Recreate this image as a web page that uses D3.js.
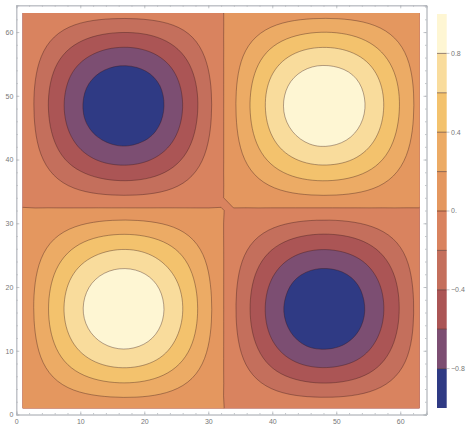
<!DOCTYPE html>
<html>
<head>
<meta charset="utf-8">
<script src="https://cdn.jsdelivr.net/npm/d3@7"></script>
<style>
  html, body { margin: 0; padding: 0; background: #fff; }
  text { font-family: "Liberation Sans", sans-serif; font-size: 7px; fill: #777; }
</style>
</head>
<body>
<script>
// contour levels and the fill of each band, lowest band first
const levels = [-0.8, -0.6, -0.4, -0.2, 0, 0.2, 0.4, 0.6, 0.8];
const bandColors = ["#2f3a84", "#7c4e72", "#ab5555", "#c46f5c", "#d9835f",
                    "#e4975f", "#ecab65", "#f3c26d", "#f9dc9c", "#fef6d3"];

const xTicks = [0, 10, 20, 30, 40, 50, 60];
const yTicks = [0, 10, 20, 30, 40, 50, 60];
const legendTicks = [-0.8, -0.4, 0, 0.4, 0.8];
const legendLabels = ["\u22120.8", "\u22120.4", "0.", "0.4", "0.8"];

// data coordinates of grid columns 0, 8, 16, 32 and of grid rows 0, 8, 16, 32
const columnPositions = [1, 16.8, 32, 63];
const rowPositions = [63, 48, 32, 1];

// values, top row first, left to right
const gridRows = [
[-.01,-.02,-.04,-.06,-.07,-.08,-.09,-.10,-.10,-.10,-.09,-.08,-.07,-.06,-.04,-.02,-.004,.015,.03,.05,.07,.08,.09,.10,.10,.10,.10,.09,.08,.06,.05,.03,.01],
[-.01,-.06,-.11,-.16,-.21,-.24,-.27,-.28,-.29,-.28,-.27,-.24,-.21,-.17,-.12,-.07,-.012,.044,.10,.15,.19,.23,.26,.28,.29,.29,.28,.25,.22,.18,.13,.08,.03],
[-.01,-.10,-.18,-.26,-.33,-.38,-.42,-.45,-.46,-.45,-.43,-.39,-.33,-.27,-.19,-.11,-.018,.069,.16,.23,.31,.37,.41,.45,.46,.46,.44,.40,.35,.29,.21,.13,.05],
[-.01,-.13,-.24,-.35,-.44,-.51,-.57,-.61,-.62,-.61,-.58,-.52,-.45,-.36,-.25,-.14,-.025,.093,.21,.32,.42,.50,.56,.60,.62,.61,.59,.54,.47,.38,.29,.18,.06],
[-.02,-.16,-.30,-.43,-.54,-.63,-.70,-.74,-.76,-.74,-.71,-.64,-.55,-.44,-.31,-.17,-.030,.114,.26,.39,.51,.61,.68,.74,.76,.75,.72,.66,.58,.47,.35,.22,.08],
[-.02,-.18,-.34,-.49,-.62,-.72,-.80,-.85,-.87,-.85,-.81,-.73,-.63,-.50,-.36,-.20,-.035,.131,.30,.44,.58,.70,.78,.84,.87,.86,.83,.76,.66,.54,.40,.25,.09],
[-.02,-.20,-.37,-.53,-.67,-.79,-.87,-.93,-.95,-.93,-.88,-.80,-.68,-.55,-.39,-.22,-.038,.143,.32,.48,.64,.76,.86,.92,.95,.94,.90,.83,.72,.59,.44,.28,.10],
[-.02,-.21,-.39,-.55,-.70,-.82,-.91,-.97,-.99,-.97,-.92,-.83,-.71,-.57,-.41,-.23,-.040,.149,.34,.50,.66,.79,.89,.96,.99,.98,.94,.86,.75,.61,.46,.29,.10],
[-.02,-.21,-.39,-.56,-.71,-.83,-.92,-.98,-1.0,-.98,-.93,-.84,-.72,-.58,-.41,-.23,-.040,.150,.34,.51,.67,.80,.90,.97,1.0,.99,.95,.87,.76,.62,.46,.29,.10],
[-.02,-.20,-.38,-.54,-.69,-.81,-.89,-.95,-.97,-.95,-.90,-.81,-.70,-.56,-.40,-.22,-.039,.146,.33,.49,.65,.78,.87,.94,.97,.96,.92,.84,.74,.60,.45,.28,.10],
[-.02,-.19,-.35,-.50,-.64,-.75,-.83,-.88,-.90,-.88,-.84,-.76,-.65,-.52,-.37,-.21,-.036,.135,.31,.46,.60,.72,.81,.87,.90,.89,.86,.78,.68,.56,.41,.26,.09],
[-.02,-.17,-.31,-.45,-.57,-.66,-.74,-.78,-.80,-.78,-.74,-.67,-.58,-.46,-.33,-.18,-.032,.120,.27,.41,.54,.64,.72,.78,.80,.79,.76,.70,.61,.50,.37,.23,.08],
[-.01,-.14,-.26,-.38,-.48,-.56,-.62,-.66,-.67,-.66,-.62,-.56,-.48,-.39,-.27,-.15,-.027,.101,.23,.34,.45,.54,.60,.65,.67,.66,.64,.58,.51,.42,.31,.19,.07],
[-.01,-.11,-.20,-.29,-.36,-.42,-.47,-.50,-.51,-.50,-.47,-.43,-.37,-.30,-.21,-.12,-.020,.077,.17,.26,.34,.41,.46,.49,.51,.50,.48,.44,.39,.32,.23,.15,.05],
[-.01,-.07,-.13,-.19,-.24,-.28,-.31,-.33,-.34,-.33,-.32,-.29,-.24,-.20,-.14,-.08,-.014,.051,.12,.17,.23,.27,.31,.33,.34,.34,.32,.30,.26,.21,.16,.10,.03],
[-.003,-.032,-.059,-.084,-.107,-.125,-.138,-.147,-.150,-.147,-.140,-.126,-.108,-.087,-.062,-.035,-.006,.023,.051,.077,.101,.120,.135,.146,.150,.149,.143,.131,.114,.093,.069,.044,.015],
[.001,.008,.016,.022,.028,.033,.037,.039,.040,.039,.037,.034,.029,.023,.016,.009,.002,-.006,-.014,-.020,-.027,-.032,-.036,-.039,-.040,-.040,-.038,-.035,-.030,-.025,-.018,-.012,-.004],
[.01,.05,.09,.13,.16,.19,.21,.23,.23,.23,.21,.19,.17,.13,.09,.05,.009,-.035,-.08,-.12,-.15,-.18,-.21,-.22,-.23,-.23,-.22,-.20,-.17,-.14,-.11,-.07,-.02],
[.01,.09,.16,.23,.29,.34,.38,.40,.41,.40,.38,.34,.30,.24,.17,.09,.016,-.062,-.14,-.21,-.27,-.33,-.37,-.40,-.41,-.41,-.39,-.36,-.31,-.25,-.19,-.12,-.04],
[.01,.12,.23,.32,.41,.48,.53,.57,.58,.57,.54,.49,.42,.34,.24,.13,.023,-.087,-.20,-.30,-.39,-.46,-.52,-.56,-.58,-.57,-.55,-.50,-.44,-.36,-.27,-.17,-.06],
[.01,.15,.28,.40,.51,.60,.66,.71,.72,.71,.67,.60,.52,.42,.30,.17,.029,-.108,-.24,-.37,-.48,-.58,-.65,-.70,-.72,-.71,-.68,-.63,-.55,-.45,-.33,-.21,-.07],
[.02,.18,.33,.47,.60,.70,.77,.82,.84,.82,.78,.71,.60,.49,.34,.19,.034,-.126,-.29,-.43,-.56,-.67,-.76,-.81,-.84,-.83,-.80,-.73,-.64,-.52,-.39,-.24,-.08],
[.02,.20,.36,.52,.66,.77,.86,.91,.93,.91,.86,.78,.67,.54,.38,.21,.037,-.140,-.32,-.47,-.62,-.74,-.84,-.90,-.93,-.92,-.88,-.81,-.71,-.58,-.43,-.27,-.09],
[.02,.21,.38,.55,.70,.81,.90,.96,.98,.96,.91,.82,.71,.57,.40,.23,.039,-.147,-.33,-.50,-.66,-.78,-.88,-.95,-.98,-.97,-.93,-.85,-.74,-.61,-.45,-.28,-.10],
[.02,.21,.39,.56,.71,.83,.92,.98,1.0,.98,.93,.84,.72,.58,.41,.23,.040,-.150,-.34,-.51,-.67,-.80,-.90,-.97,-1.0,-.99,-.95,-.87,-.76,-.62,-.46,-.29,-.10],
[.02,.21,.38,.55,.70,.81,.90,.96,.98,.96,.91,.82,.71,.57,.40,.23,.039,-.147,-.33,-.50,-.66,-.78,-.88,-.95,-.98,-.97,-.93,-.85,-.74,-.61,-.45,-.28,-.10],
[.02,.19,.36,.52,.65,.76,.85,.90,.92,.90,.86,.77,.66,.53,.38,.21,.037,-.138,-.31,-.47,-.62,-.74,-.83,-.89,-.92,-.91,-.87,-.80,-.70,-.57,-.42,-.27,-.09],
[.02,.17,.32,.46,.59,.69,.76,.81,.83,.81,.77,.70,.60,.48,.34,.19,.033,-.125,-.28,-.42,-.56,-.66,-.75,-.81,-.83,-.82,-.79,-.72,-.63,-.51,-.38,-.24,-.08],
[.01,.15,.28,.40,.50,.59,.65,.70,.71,.70,.66,.60,.51,.41,.29,.16,.028,-.107,-.24,-.36,-.48,-.57,-.64,-.69,-.71,-.70,-.67,-.62,-.54,-.44,-.33,-.21,-.07],
[.01,.12,.22,.31,.40,.46,.52,.55,.56,.55,.52,.47,.40,.32,.23,.13,.022,-.084,-.19,-.29,-.38,-.45,-.50,-.54,-.56,-.55,-.53,-.49,-.43,-.35,-.26,-.16,-.06],
[.01,.08,.15,.22,.28,.32,.36,.38,.39,.38,.36,.33,.28,.23,.16,.09,.016,-.059,-.13,-.20,-.26,-.31,-.35,-.38,-.39,-.39,-.37,-.34,-.30,-.24,-.18,-.11,-.04],
[.004,.04,.08,.12,.15,.17,.19,.21,.21,.21,.20,.18,.15,.12,.09,.05,.008,-.032,-.07,-.11,-.14,-.17,-.19,-.20,-.21,-.21,-.20,-.18,-.16,-.13,-.10,-.06,-.02],
[.001,.004,.008,.011,.014,.017,.018,.020,.020,.020,.019,.017,.014,.012,.008,.005,.001,-.003,-.007,-.010,-.013,-.016,-.018,-.019,-.020,-.020,-.019,-.017,-.015,-.012,-.009,-.006,-.002]
];

const width = 474;
const height = 430;
const frameColor = "#b4b8bc";

const svg = d3.select("body").append("svg")
    .attr("width", width)
    .attr("height", height)
    .style("display", "block");

const x = d3.scaleLinear().domain([0, 64.1]).range([16.3, 426.5]);
const y = d3.scaleLinear().domain([0, 64.2]).range([414.5, 5.3]);
const legendY = d3.scaleLinear().domain([-1, 1]).range([408, 14]);

// d3.contours puts sample i at i + 0.5
const rowCount = gridRows.length;
const colCount = gridRows[0].length;
const gridAnchors = [0.5, 8.5, 16.5, 32.5];
const gridX = d3.scaleLinear().domain(gridAnchors).range(columnPositions.map(x));
const gridY = d3.scaleLinear().domain(gridAnchors).range(rowPositions.map(y));

const contours = d3.contours()
    .size([colCount, rowCount])
    .thresholds(levels)(gridRows.flat());

const plotLeft = gridX(0.5);
const plotRight = gridX(colCount - 0.5);
const plotTop = gridY(0.5);
const plotBottom = gridY(rowCount - 0.5);

svg.append("clipPath").attr("id", "plot-clip")
    .append("rect")
    .attr("x", plotLeft)
    .attr("y", plotTop)
    .attr("width", plotRight - plotLeft)
    .attr("height", plotBottom - plotTop);

const closedLine = d3.line().x(d => gridX(d[0])).y(d => gridY(d[1])).curve(d3.curveBasisClosed);
const openLine = d3.line().x(d => gridX(d[0])).y(d => gridY(d[1]));

// even spacing along the ring, the grid crossings bunch up otherwise
function resampleRing(ring, count) {
    const lengths = [0];
    for (let i = 1; i < ring.length; i++) {
        lengths.push(lengths[i - 1] + Math.hypot(ring[i][0] - ring[i - 1][0], ring[i][1] - ring[i - 1][1]));
    }
    const total = lengths[lengths.length - 1];
    return d3.range(count).map(k => {
        const at = total * k / count;
        const i = Math.min(d3.bisectRight(lengths, at), ring.length - 1);
        const t = (at - lengths[i - 1]) / (lengths[i] - lengths[i - 1]);
        return [ring[i - 1][0] + t * (ring[i][0] - ring[i - 1][0]),
                ring[i - 1][1] + t * (ring[i][1] - ring[i - 1][1])];
    });
}

function relaxRing(pts) {
    const n = pts.length;
    return pts.map((p, i) => {
        const a = pts[(i + n - 1) % n];
        const b = pts[(i + 1) % n];
        return [(a[0] + 2 * p[0] + b[0]) / 4, (a[1] + 2 * p[1] + b[1]) / 4];
    });
}

// relaxing shrinks a loop a little, so grow it back to the same area
function smoothRing(ring) {
    const start = resampleRing(ring, 48);
    let pts = start;
    for (let pass = 0; pass < 4; pass++) pts = relaxRing(pts);
    const [cx, cy] = d3.polygonCentroid(pts);
    const grow = Math.sqrt(Math.abs(d3.polygonArea(start) / d3.polygonArea(pts)));
    return pts.map(p => [cx + (p[0] - cx) * grow, cy + (p[1] - cy) * grow]);
}

// rings that run along the grid edge stay straight, the closed loops get smoothed
function ringPath(ring) {
    const onEdge = ring.some(p => p[0] <= 0 || p[1] <= 0 || p[0] >= colCount || p[1] >= rowCount);
    return onEdge ? openLine(ring) + "Z" : closedLine(smoothRing(ring));
}

const plot = svg.append("g").attr("clip-path", "url(#plot-clip)");

plot.append("rect")
    .attr("x", plotLeft)
    .attr("y", plotTop)
    .attr("width", plotRight - plotLeft)
    .attr("height", plotBottom - plotTop)
    .attr("fill", bandColors[0]);

plot.selectAll(".band")
    .data(contours)
    .enter().append("path")
    .attr("class", "band")
    .attr("d", d => d.coordinates.flat().map(ringPath).join(""))
    .attr("fill", (d, i) => bandColors[i + 1])
    .attr("fill-rule", "evenodd")
    .attr("stroke", "#3a1a1a")
    .attr("stroke-opacity", 0.55)
    .attr("stroke-width", 0.7);

// frame with major ticks every 10 and minor ticks every 2
function drawAxis(axisFn, scale, transform, labels, padding) {
    const minor = svg.append("g").attr("transform", transform)
        .call(axisFn(scale).tickValues(d3.range(0, 65, 2)).tickSize(-1.5).tickFormat(""));
    const major = svg.append("g").attr("transform", transform)
        .call(axisFn(scale).tickValues(labels ? labels : xTicks).tickSize(-3).tickPadding(padding)
            .tickFormat(labels ? d3.format("d") : ""));
    [minor, major].forEach(g => {
        g.selectAll("path, line").attr("stroke", frameColor).attr("stroke-width", 0.8);
        g.selectAll("text").attr("fill", null);
    });
}

drawAxis(d3.axisBottom, x, `translate(0,${y(0)})`, xTicks, 5);
drawAxis(d3.axisLeft, y, `translate(${x(0)},0)`, yTicks, 3);
drawAxis(d3.axisTop, x, `translate(0,${y.range()[1]})`, null, 0);
drawAxis(d3.axisRight, y, `translate(${x.range()[1]},0)`, null, 0);

// colour bar
const legend = svg.append("g");
const legendEdges = [-1, ...levels, 1];

legend.selectAll("rect")
    .data(bandColors)
    .enter().append("rect")
    .attr("x", 437)
    .attr("width", 9.7)
    .attr("y", (d, i) => legendY(legendEdges[i + 1]))
    .attr("height", (d, i) => legendY(legendEdges[i]) - legendY(legendEdges[i + 1]))
    .attr("fill", d => d);

legend.selectAll(".level")
    .data(levels)
    .enter().append("line")
    .attr("class", "level")
    .attr("x1", 437)
    .attr("x2", 446.7)
    .attr("y1", d => legendY(d))
    .attr("y2", d => legendY(d))
    .attr("stroke", "#3a1a1a")
    .attr("stroke-opacity", 0.65)
    .attr("stroke-width", 0.8);

legend.selectAll(".tick-mark")
    .data(legendTicks)
    .enter().append("line")
    .attr("class", "tick-mark")
    .attr("x1", 446.7)
    .attr("x2", 449.5)
    .attr("y1", d => legendY(d))
    .attr("y2", d => legendY(d))
    .attr("stroke", frameColor)
    .attr("stroke-width", 0.8);

legend.selectAll("text")
    .data(legendTicks)
    .enter().append("text")
    .attr("x", 451)
    .attr("y", d => legendY(d))
    .attr("dy", "0.35em")
    .text((d, i) => legendLabels[i]);
</script>
</body>
</html>
